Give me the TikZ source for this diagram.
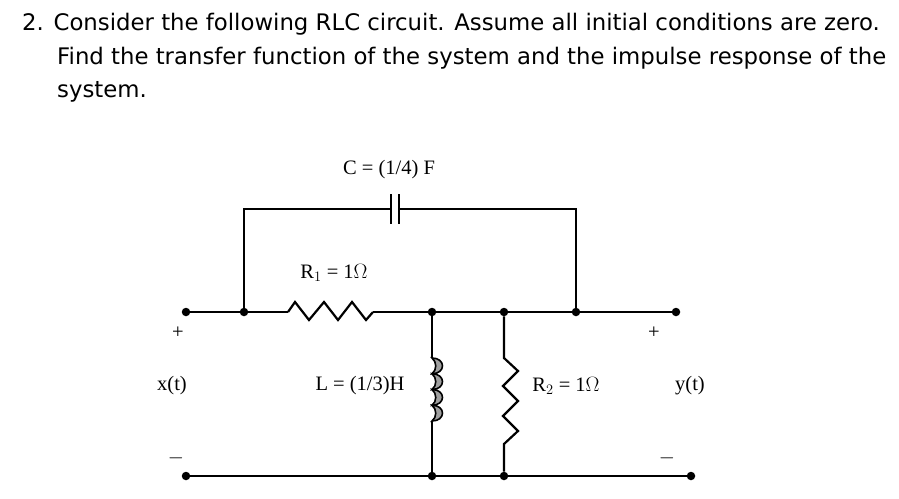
\documentclass[tikz,border=0pt]{standalone}
\usepackage{fontspec}
\setmainfont{Liberation Serif}
\newfontfamily\titlefont{DejaVu Sans}
\begin{document}
\begin{tikzpicture}[x=1pt,y=-1pt,
  w/.style={line width=2.2pt},
  dot/.style={circle,fill=black,inner sep=0pt,minimum size=8.5pt},
  lbl/.style={font=\fontsize{20.5}{22}\selectfont},
  ttl/.style={font=\titlefont\fontsize{22.8}{26}\selectfont,anchor=west,inner sep=0pt}]
\useasboundingbox (0,0) rectangle (899,498);
\node[ttl] (t1) at (22,24) {2. Consider the following RLC circuit. Assume all initial conditions are zero.};
\node[ttl] (t2) at (57,58) {Find the transfer function of the system and the impulse response of the};
\node[ttl] (t3) at (57,92) {system.};
% nodes
\node[dot] (a) at (186,312) {};
\node[dot] (b) at (244,312) {};
\node[dot] (c) at (432,312) {};
\node[dot] (d) at (504,312) {};
\node[dot] (e) at (576,312) {};
\node[dot] (f) at (676,312) {};
\node[dot] (g) at (186,476) {};
\node[dot] (h) at (432,476) {};
\node[dot] (i) at (504,476) {};
\node[dot] (j) at (691,476) {};
\coordinate (c1) at (391,209);
\coordinate (c2) at (399,209);
\coordinate (r1a) at (288,312);
\coordinate (r1b) at (373,312);
\coordinate (la) at (432,358);
\coordinate (lb) at (432,421);
\coordinate (r2a) at (504,358);
\coordinate (r2b) at (504,447);
% wires
\draw[w] (a) -- (b) -- (r1a);
\draw[w] (r1b) -- (c) -- (d) -- (e) -- (f);
\draw[w] (b) |- (c1);
\draw[w] (c2) -| (e);
\draw[w] (391,194) -- (391,224);
\draw[w] (399,194) -- (399,224);
\draw[w,line join=miter] (r1a) -- (295,302) -- (309,320) -- (324,302) -- (338,320) -- (352,302) -- (366,320) -- (r1b);
\draw[w] (g) -- (h) -- (i) -- (j);
\draw[w] (c) -- (la);
\draw[w] (lb) -- (h);
\foreach \k in {0,1,2,3}{
  \draw[line width=1.6pt,fill=gray!75] (432,358+\k*15.75)
    .. controls (446,358+\k*15.75) and (446,373.75+\k*15.75) .. (432,373.75+\k*15.75)
    .. controls (437,370+\k*15.75) and (437,362+\k*15.75) .. cycle;
}
\draw[w,line join=miter] (d) -- (r2a) -- (518,371) -- (503,386) -- (518,401) -- (503,416) -- (518,431) -- (504,444) -- (r2b) -- (i);
% labels
\node[lbl] (lc) at (389,170) {C = (1/4) F};
\node[lbl] (lr1) at (334,273) {R$_1$ = 1$\Omega$};
\node[lbl] (ll) at (360,386) {L = (1/3)H};
\node[lbl] (lr2) at (566,386) {R$_2$ = 1$\Omega$};
\node[lbl] (lx) at (172,386) {x(t)};
\node[lbl] (ly) at (690,386) {y(t)};
\node[lbl] (p1) at (178,333) {+};
\node[lbl] (p2) at (654,333) {+};
\node[lbl] (m1) at (176,458) {$-$};
\node[lbl] (m2) at (667,458) {$-$};
\end{tikzpicture}
\end{document}
